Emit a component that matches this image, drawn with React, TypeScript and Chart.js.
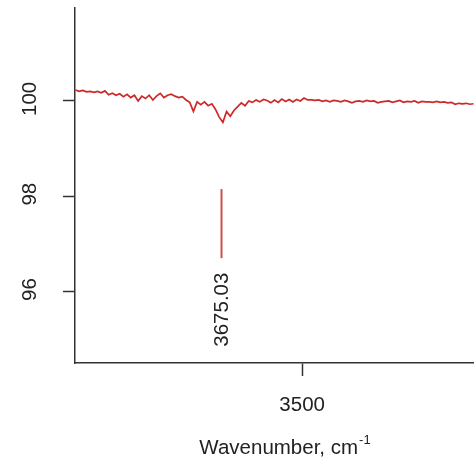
import { useEffect, useRef } from "react";
import { Chart, registerables } from "chart.js";
Chart.register(...registerables);

const WAVENUMBERS = [
  3992, 3984, 3976, 3968, 3960, 3952, 3944, 3936, 3928, 3920, 3912, 3904, 3896, 3888, 3880, 3872,
  3864, 3856, 3848, 3840, 3832, 3824, 3816, 3808, 3800, 3792, 3784, 3776, 3768, 3760, 3752, 3744,
  3736, 3728, 3720, 3712, 3704, 3696, 3688, 3680, 3672, 3664, 3656, 3648, 3640, 3632, 3624, 3616,
  3608, 3600, 3592, 3584, 3576, 3568, 3560, 3552, 3544, 3536, 3528, 3520, 3512, 3504, 3496, 3488,
  3480, 3472, 3464, 3456, 3448, 3440, 3432, 3424, 3416, 3408, 3400, 3392, 3384, 3376, 3368, 3360,
  3352, 3344, 3336, 3328, 3320, 3312, 3304, 3296, 3288, 3280, 3272, 3264, 3256, 3248, 3240, 3232,
  3224, 3216, 3208, 3200, 3192, 3184, 3176, 3168, 3160, 3152, 3144, 3136, 3128,
];

const TRANSMITTANCE = [
  100.23, 100.2, 100.22, 100.19, 100.2, 100.18, 100.2, 100.17, 100.21, 100.13, 100.16, 100.12, 100.15, 100.09, 100.14, 100.07,
  100.12, 100.0, 100.1, 100.05, 100.12, 100.02, 100.1, 100.16, 100.07, 100.12, 100.14, 100.1, 100.07, 100.09, 100.02, 99.97,
  99.78, 99.98, 99.92, 99.98, 99.9, 99.94, 99.82, 99.66, 99.55, 99.78, 99.68, 99.8, 99.88, 99.96, 99.9, 100.0,
  99.97, 100.02, 99.98, 100.03, 100.01, 99.96, 100.02, 99.97, 100.04, 99.99, 100.03, 99.98, 100.03, 100.0, 100.06, 100.02,
  100.02, 100.01, 100.02, 99.99, 100.01, 99.98, 100.01, 100.0, 99.98, 100.01, 99.99, 99.96, 99.99, 100.0, 99.98, 100.01,
  99.99, 100.0, 99.96, 99.98, 99.99, 100.0, 99.97, 99.99, 100.01, 99.97, 99.99, 99.98, 100.0, 99.96, 99.99, 99.98,
  99.98, 99.97, 99.99, 99.97, 99.98, 99.96, 99.97, 99.93, 99.95, 99.94, 99.95, 99.93, 99.94,
];

const X_TICKS = [3500];
const Y_TICKS = [96, 98, 100];
const X_RANGE = [3127, 3993];
const Y_RANGE = [94.5, 101.95];

const PEAK_WAVENUMBER = 3675.03;
const PEAK_LABEL = "3675.03";
const PEAK_LINE = [98.15, 96.7];
const PEAK_LABEL_Y = 95.62;

const X_TITLE = "Wavenumber, cm";
const X_TITLE_SUP = "-1";

const FONT = "'Liberation Sans', Arial, sans-serif";
const TEXT_COLOR = "#222";
const AXIS_COLOR = "#333";
const LINE_COLOR = "#cc2a2a";
const MARK_COLOR = "#c8504d";

export default function App() {
  const ref = useRef<HTMLCanvasElement | null>(null);

  useEffect(() => {
    const canvas = ref.current;
    if (!canvas) return;

    const textPlugin = {
      id: "textPlugin",
      afterDraw(chart: any) {
        const ctx = chart.ctx as CanvasRenderingContext2D;
        const xs = chart.scales.x;
        const ys = chart.scales.y;
        ctx.save();
        ctx.fillStyle = TEXT_COLOR;
        ctx.font = `20.5px ${FONT}`;
        Y_TICKS.forEach((v) => {
          const y = ys.getPixelForValue(v);
          ctx.save();
          ctx.translate(30, y - 2);
          ctx.rotate(-Math.PI / 2);
          ctx.textAlign = "center";
          ctx.textBaseline = "middle";
          ctx.fillText(String(v), 0, 0);
          ctx.restore();
        });
        X_TICKS.forEach((v) => {
          const x = xs.getPixelForValue(v);
          ctx.textAlign = "center";
          ctx.textBaseline = "middle";
          ctx.fillText(String(v), x, 405);
        });
        ctx.font = `20.5px ${FONT}`;
        const w1 = ctx.measureText(X_TITLE).width;
        ctx.font = `13px ${FONT}`;
        const w2 = ctx.measureText(X_TITLE_SUP).width;
        const cx = 285;
        const start = cx - (w1 + w2 + 1) / 2;
        ctx.textAlign = "left";
        ctx.textBaseline = "middle";
        ctx.font = `20.5px ${FONT}`;
        ctx.fillText(X_TITLE, start, 448);
        ctx.font = `13px ${FONT}`;
        ctx.fillText(X_TITLE_SUP, start + w1 + 1, 440);

        const px = xs.getPixelForValue(PEAK_WAVENUMBER);
        ctx.strokeStyle = MARK_COLOR;
        ctx.lineWidth = 2;
        ctx.beginPath();
        ctx.moveTo(px, ys.getPixelForValue(PEAK_LINE[0]));
        ctx.lineTo(px, ys.getPixelForValue(PEAK_LINE[1]));
        ctx.stroke();
        ctx.save();
        ctx.translate(px + 1, ys.getPixelForValue(PEAK_LABEL_Y));
        ctx.rotate(-Math.PI / 2);
        ctx.font = `20.5px ${FONT}`;
        ctx.fillStyle = TEXT_COLOR;
        ctx.textAlign = "center";
        ctx.textBaseline = "middle";
        ctx.fillText(PEAK_LABEL, 0, 0);
        ctx.restore();
        ctx.restore();
      },
    };

    const chart = new Chart(canvas, {
      type: "line",
      data: {
        datasets: [
          {
            data: WAVENUMBERS.map((w, i) => ({ x: w, y: TRANSMITTANCE[i] })),
            borderColor: LINE_COLOR,
            borderWidth: 1.7,
            pointRadius: 0,
            tension: 0,
            fill: false,
          },
        ],
      },
      options: {
        animation: false,
        responsive: false,
        events: [],
        layout: { padding: { top: 8, left: 0, right: 0, bottom: 0 } },
        plugins: { legend: { display: false }, tooltip: { enabled: false } },
        scales: {
          x: {
            type: "linear",
            reverse: true,
            min: X_RANGE[0],
            max: X_RANGE[1],
            afterBuildTicks: (s: any) => {
              s.ticks = X_TICKS.map((v) => ({ value: v }));
            },
            afterFit: (s: any) => {
              s.height = 111;
            },
            ticks: { display: false },
            grid: {
              display: true,
              drawOnChartArea: false,
              drawTicks: true,
              tickLength: 13,
              tickColor: AXIS_COLOR,
              tickWidth: 1.5,
            },
            border: { display: true, color: AXIS_COLOR, width: 1.5 },
          },
          y: {
            type: "linear",
            min: Y_RANGE[0],
            max: Y_RANGE[1],
            afterBuildTicks: (s: any) => {
              s.ticks = Y_TICKS.map((v) => ({ value: v }));
            },
            afterFit: (s: any) => {
              s.width = 75;
            },
            ticks: { display: false },
            grid: {
              display: true,
              drawOnChartArea: false,
              drawTicks: true,
              tickLength: 12,
              tickColor: AXIS_COLOR,
              tickWidth: 1.5,
            },
            border: { display: true, color: AXIS_COLOR, width: 1.5 },
          },
        },
      },
      plugins: [textPlugin],
    });
    return () => chart.destroy();
  }, []);

  return (
    <canvas
      ref={ref}
      width={474}
      height={474}
      style={{ position: "absolute", left: 0, top: 0, width: 474, height: 474, background: "#fff" }}
    />
  );
}
